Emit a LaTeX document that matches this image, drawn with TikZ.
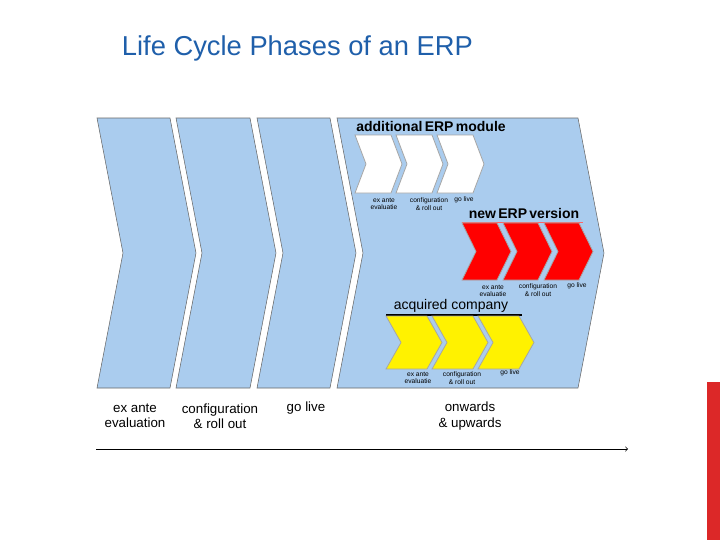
\documentclass[tikz,border=0pt]{standalone}
\usepackage{fontspec}
\setmainfont{Liberation Sans}
\definecolor{phaseblue}{RGB}{170,204,238}
\definecolor{titleblue}{RGB}{31,95,170}
\definecolor{barred}{RGB}{220,40,40}
\tikzset{every picture/.style={line width=0.75pt}}
\tikzset{
  big/.style={fill=phaseblue,draw=gray!80!black,line width=0.4pt},
  small/.style={draw=gray!70,line width=0.6pt},
  head/.style={font=\bfseries\fontsize{10.5}{11}\selectfont,inner sep=0.75pt},
  tiny/.style={font=\fontsize{5}{5.6}\selectfont,align=center,inner sep=0.5pt},
  phase/.style={font=\fontsize{10}{11.5}\selectfont,align=center,inner sep=0.75pt}
}
% chevron: left top x, top y, width, height, depth, style
\newcommand\chev[6]{\draw[#6] (#1,#2) -- ({#1+#3},#2) -- ({#1+#3+#5},{#2+#4/2}) -- ({#1+#3},{#2+#4}) -- (#1,{#2+#4}) -- ({#1+#5},{#2+#4/2}) -- cycle;}
\begin{document}
\begin{tikzpicture}[x=0.75pt,y=0.75pt,yscale=-1,xscale=1]
\path[use as bounding box] (0,0) rectangle (720,540);

% Title
\node[text=titleblue,font=\fontsize{20.5}{24}\selectfont,anchor=west] (title) at (117,48) {Life Cycle Phases of an ERP};
% red bar
\fill[barred] (707,382) rectangle (720,540);

% main phases
\chev{97}{118}{73}{270}{26}{big}
\chev{176}{118}{74}{270}{26}{big}
\chev{257}{118}{73}{270}{26}{big}
\chev{337}{118}{241}{270}{26}{big}

% additional ERP module
\foreach \i in {0,1,2} {\chev{355+41*\i}{135}{36}{58}{11}{small,fill=white}}
% new ERP version
\draw[red!60,line width=0.5pt] (462,222) -- (583,222);
\foreach \i in {0,1,2} {\chev{462+41*\i}{223}{35}{57}{14}{small,fill=red}}
% acquired company
\draw[line width=1.5pt] (386,315) -- (522,315);
\foreach \i in {0,1,2} {\chev{386+46*\i}{316}{41}{53}{15}{small,fill=yellow}}

% Text Node
\node[head] (addmod) at (431,126) {additional\,ERP\,module};
\node[head] (newver) at (524,213) {new\,ERP\,version};
\node[head,font=\fontsize{10.5}{11}\selectfont] (acq) at (451,306) {acquired company};

\node[tiny] (wa) at (384,204) {ex ante\\evaluatie};
\node[tiny] (wb) at (429,204) {configuration\\\& roll out};
\node[tiny] (wc) at (464,200) {go live};
\node[tiny] (ra) at (493,291) {ex ante\\evaluatie};
\node[tiny] (rb) at (538,290) {configuration\\\& roll out};
\node[tiny] (rc) at (577,286) {go live};
\node[tiny] (ya) at (418,378) {ex ante\\evaluatie};
\node[tiny] (yb) at (462,378) {configuration\\\& roll out};
\node[tiny] (yc) at (510,373) {go live};

\node[phase] (pa) at (135,416) {ex ante\\evaluation};
\node[phase] (pb) at (220,416) {configuration\\\& roll out};
\node[phase] (pc) at (306,408) {go live};
\node[phase] (pd) at (470,416) {onwards\\\& upwards};

% time axis
\coordinate (t0) at (96,449);
\coordinate (t1) at (628,449);
\draw[line width=0.5pt,->] (t0) -- (t1);
\end{tikzpicture}
\end{document}
